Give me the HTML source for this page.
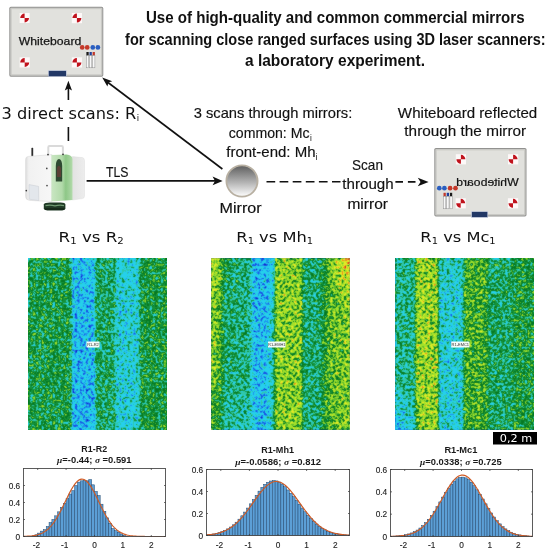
<!DOCTYPE html>
<html><head><meta charset="utf-8"><title>Mirrors laser scanning</title>
<style>html,body{margin:0;padding:0;background:#fff;width:550px;height:550px;overflow:hidden}svg{display:block}</style></head>
<body>
<svg width="550" height="550" viewBox="0 0 550 550">
<defs>
<filter id="mf1" x="0" y="0" width="100%" height="100%" color-interpolation-filters="sRGB">
<feTurbulence type="fractalNoise" baseFrequency="0.36" numOctaves="2" seed="3" result="nz"/>
<feColorMatrix in="nz" type="matrix" values="1 0 0 0 0 1 0 0 0 0 1 0 0 0 0 0 0 0 0 1" result="ng"/>
<feComposite in="SourceGraphic" in2="ng" operator="arithmetic" k1="0" k2="1" k3="0.58" k4="-0.290" result="fd"/>
<feComponentTransfer in="fd">
<feFuncR type="discrete" tableValues="0.059 0.059 0.059 0.059 0.059 0.059 0.059 0.059 0.059 0.059 0.059 0.059 0.059 0.059 0.059 0.059 0.098 0.098 0.098 0.098 0.098 0.098 0.098 0.098 0.118 0.118 0.118 0.118 0.118 0.118 0.149 0.149 0.149 0.149 0.149 0.149 0.149 0.149 0.149 0.149 0.149 0.149 0.149 0.188 0.188 0.188 0.188 0.188 0.188 0.086 0.086 0.086 0.086 0.086 0.086 0.020 0.020 0.020 0.020 0.020 0.020 0.020 0.373 0.373 0.373 0.373 0.373 0.647 0.647 0.647 0.647 0.647 0.647 0.647 0.647 0.902 0.902 0.902 0.902 0.902 0.902 0.902 0.902 0.933 0.933 0.933 0.933 0.933 0.933 0.933 0.933 0.843 0.843 0.843 0.843 0.843 0.843 0.843 0.843 0.843"/>
<feFuncG type="discrete" tableValues="0.118 0.118 0.118 0.118 0.118 0.118 0.118 0.118 0.118 0.118 0.118 0.118 0.118 0.118 0.118 0.118 0.314 0.314 0.314 0.314 0.314 0.314 0.314 0.314 0.569 0.569 0.569 0.569 0.569 0.569 0.816 0.816 0.816 0.816 0.816 0.816 0.816 0.816 0.816 0.816 0.816 0.816 0.816 0.784 0.784 0.784 0.784 0.784 0.784 0.580 0.580 0.580 0.580 0.580 0.580 0.478 0.478 0.478 0.478 0.478 0.478 0.478 0.737 0.737 0.737 0.737 0.737 0.886 0.886 0.886 0.886 0.886 0.886 0.886 0.886 0.918 0.918 0.918 0.918 0.918 0.918 0.918 0.918 0.549 0.549 0.549 0.549 0.549 0.549 0.549 0.549 0.137 0.137 0.137 0.137 0.137 0.137 0.137 0.137 0.137"/>
<feFuncB type="discrete" tableValues="0.765 0.765 0.765 0.765 0.765 0.765 0.765 0.765 0.765 0.765 0.765 0.765 0.765 0.765 0.765 0.765 0.894 0.894 0.894 0.894 0.894 0.894 0.894 0.894 0.933 0.933 0.933 0.933 0.933 0.933 0.922 0.922 0.922 0.922 0.922 0.922 0.922 0.922 0.922 0.922 0.922 0.922 0.922 0.667 0.667 0.667 0.667 0.667 0.667 0.235 0.235 0.235 0.235 0.235 0.235 0.141 0.141 0.141 0.141 0.141 0.141 0.141 0.180 0.180 0.180 0.180 0.180 0.165 0.165 0.165 0.165 0.165 0.165 0.165 0.165 0.149 0.149 0.149 0.149 0.149 0.149 0.149 0.149 0.118 0.118 0.118 0.118 0.118 0.118 0.118 0.118 0.118 0.118 0.118 0.118 0.118 0.118 0.118 0.118 0.118"/>
<feFuncA type="table" tableValues="1 1"/>
</feComponentTransfer>
<feConvolveMatrix order="3" kernelMatrix="1 2 1 2 14 2 1 2 1" preserveAlpha="true" edgeMode="duplicate"/>
</filter>
<filter id="mf2" x="0" y="0" width="100%" height="100%" color-interpolation-filters="sRGB">
<feTurbulence type="fractalNoise" baseFrequency="0.36" numOctaves="2" seed="7" result="nz"/>
<feColorMatrix in="nz" type="matrix" values="1 0 0 0 0 1 0 0 0 0 1 0 0 0 0 0 0 0 0 1" result="ng"/>
<feComposite in="SourceGraphic" in2="ng" operator="arithmetic" k1="0" k2="1" k3="0.58" k4="-0.290" result="fd"/>
<feComponentTransfer in="fd">
<feFuncR type="discrete" tableValues="0.059 0.059 0.059 0.059 0.059 0.059 0.059 0.059 0.059 0.059 0.059 0.059 0.059 0.059 0.059 0.059 0.098 0.098 0.098 0.098 0.098 0.098 0.098 0.098 0.118 0.118 0.118 0.118 0.118 0.118 0.149 0.149 0.149 0.149 0.149 0.149 0.149 0.149 0.149 0.149 0.149 0.149 0.149 0.188 0.188 0.188 0.188 0.188 0.188 0.086 0.086 0.086 0.086 0.086 0.086 0.020 0.020 0.020 0.020 0.020 0.020 0.020 0.373 0.373 0.373 0.373 0.373 0.647 0.647 0.647 0.647 0.647 0.647 0.647 0.647 0.902 0.902 0.902 0.902 0.902 0.902 0.902 0.902 0.933 0.933 0.933 0.933 0.933 0.933 0.933 0.933 0.843 0.843 0.843 0.843 0.843 0.843 0.843 0.843 0.843"/>
<feFuncG type="discrete" tableValues="0.118 0.118 0.118 0.118 0.118 0.118 0.118 0.118 0.118 0.118 0.118 0.118 0.118 0.118 0.118 0.118 0.314 0.314 0.314 0.314 0.314 0.314 0.314 0.314 0.569 0.569 0.569 0.569 0.569 0.569 0.816 0.816 0.816 0.816 0.816 0.816 0.816 0.816 0.816 0.816 0.816 0.816 0.816 0.784 0.784 0.784 0.784 0.784 0.784 0.580 0.580 0.580 0.580 0.580 0.580 0.478 0.478 0.478 0.478 0.478 0.478 0.478 0.737 0.737 0.737 0.737 0.737 0.886 0.886 0.886 0.886 0.886 0.886 0.886 0.886 0.918 0.918 0.918 0.918 0.918 0.918 0.918 0.918 0.549 0.549 0.549 0.549 0.549 0.549 0.549 0.549 0.137 0.137 0.137 0.137 0.137 0.137 0.137 0.137 0.137"/>
<feFuncB type="discrete" tableValues="0.765 0.765 0.765 0.765 0.765 0.765 0.765 0.765 0.765 0.765 0.765 0.765 0.765 0.765 0.765 0.765 0.894 0.894 0.894 0.894 0.894 0.894 0.894 0.894 0.933 0.933 0.933 0.933 0.933 0.933 0.922 0.922 0.922 0.922 0.922 0.922 0.922 0.922 0.922 0.922 0.922 0.922 0.922 0.667 0.667 0.667 0.667 0.667 0.667 0.235 0.235 0.235 0.235 0.235 0.235 0.141 0.141 0.141 0.141 0.141 0.141 0.141 0.180 0.180 0.180 0.180 0.180 0.165 0.165 0.165 0.165 0.165 0.165 0.165 0.165 0.149 0.149 0.149 0.149 0.149 0.149 0.149 0.149 0.118 0.118 0.118 0.118 0.118 0.118 0.118 0.118 0.118 0.118 0.118 0.118 0.118 0.118 0.118 0.118 0.118"/>
<feFuncA type="table" tableValues="1 1"/>
</feComponentTransfer>
<feConvolveMatrix order="3" kernelMatrix="1 2 1 2 14 2 1 2 1" preserveAlpha="true" edgeMode="duplicate"/>
</filter>
<filter id="mf3" x="0" y="0" width="100%" height="100%" color-interpolation-filters="sRGB">
<feTurbulence type="fractalNoise" baseFrequency="0.36" numOctaves="2" seed="11" result="nz"/>
<feColorMatrix in="nz" type="matrix" values="1 0 0 0 0 1 0 0 0 0 1 0 0 0 0 0 0 0 0 1" result="ng"/>
<feComposite in="SourceGraphic" in2="ng" operator="arithmetic" k1="0" k2="1" k3="0.58" k4="-0.290" result="fd"/>
<feComponentTransfer in="fd">
<feFuncR type="discrete" tableValues="0.059 0.059 0.059 0.059 0.059 0.059 0.059 0.059 0.059 0.059 0.059 0.059 0.059 0.059 0.059 0.059 0.098 0.098 0.098 0.098 0.098 0.098 0.098 0.098 0.118 0.118 0.118 0.118 0.118 0.118 0.149 0.149 0.149 0.149 0.149 0.149 0.149 0.149 0.149 0.149 0.149 0.149 0.149 0.188 0.188 0.188 0.188 0.188 0.188 0.086 0.086 0.086 0.086 0.086 0.086 0.020 0.020 0.020 0.020 0.020 0.020 0.020 0.373 0.373 0.373 0.373 0.373 0.647 0.647 0.647 0.647 0.647 0.647 0.647 0.647 0.902 0.902 0.902 0.902 0.902 0.902 0.902 0.902 0.933 0.933 0.933 0.933 0.933 0.933 0.933 0.933 0.843 0.843 0.843 0.843 0.843 0.843 0.843 0.843 0.843"/>
<feFuncG type="discrete" tableValues="0.118 0.118 0.118 0.118 0.118 0.118 0.118 0.118 0.118 0.118 0.118 0.118 0.118 0.118 0.118 0.118 0.314 0.314 0.314 0.314 0.314 0.314 0.314 0.314 0.569 0.569 0.569 0.569 0.569 0.569 0.816 0.816 0.816 0.816 0.816 0.816 0.816 0.816 0.816 0.816 0.816 0.816 0.816 0.784 0.784 0.784 0.784 0.784 0.784 0.580 0.580 0.580 0.580 0.580 0.580 0.478 0.478 0.478 0.478 0.478 0.478 0.478 0.737 0.737 0.737 0.737 0.737 0.886 0.886 0.886 0.886 0.886 0.886 0.886 0.886 0.918 0.918 0.918 0.918 0.918 0.918 0.918 0.918 0.549 0.549 0.549 0.549 0.549 0.549 0.549 0.549 0.137 0.137 0.137 0.137 0.137 0.137 0.137 0.137 0.137"/>
<feFuncB type="discrete" tableValues="0.765 0.765 0.765 0.765 0.765 0.765 0.765 0.765 0.765 0.765 0.765 0.765 0.765 0.765 0.765 0.765 0.894 0.894 0.894 0.894 0.894 0.894 0.894 0.894 0.933 0.933 0.933 0.933 0.933 0.933 0.922 0.922 0.922 0.922 0.922 0.922 0.922 0.922 0.922 0.922 0.922 0.922 0.922 0.667 0.667 0.667 0.667 0.667 0.667 0.235 0.235 0.235 0.235 0.235 0.235 0.141 0.141 0.141 0.141 0.141 0.141 0.141 0.180 0.180 0.180 0.180 0.180 0.165 0.165 0.165 0.165 0.165 0.165 0.165 0.165 0.149 0.149 0.149 0.149 0.149 0.149 0.149 0.149 0.118 0.118 0.118 0.118 0.118 0.118 0.118 0.118 0.118 0.118 0.118 0.118 0.118 0.118 0.118 0.118 0.118"/>
<feFuncA type="table" tableValues="1 1"/>
</feComponentTransfer>
<feConvolveMatrix order="3" kernelMatrix="1 2 1 2 14 2 1 2 1" preserveAlpha="true" edgeMode="duplicate"/>
</filter>
<linearGradient id="g1" x1="0" y1="0" x2="1" y2="0"><stop offset="0.000" stop-color="rgb(138,138,138)"/><stop offset="0.309" stop-color="rgb(138,138,138)"/><stop offset="0.324" stop-color="rgb(85,85,85)"/><stop offset="0.475" stop-color="rgb(85,85,85)"/><stop offset="0.489" stop-color="rgb(130,130,130)"/><stop offset="0.619" stop-color="rgb(130,130,130)"/><stop offset="0.640" stop-color="rgb(102,102,102)"/><stop offset="0.791" stop-color="rgb(102,102,102)"/><stop offset="0.813" stop-color="rgb(140,140,140)"/><stop offset="1.000" stop-color="rgb(140,140,140)"/></linearGradient>
<linearGradient id="g2" x1="0" y1="0" x2="1" y2="0"><stop offset="0.000" stop-color="rgb(175,175,175)"/><stop offset="0.058" stop-color="rgb(165,165,165)"/><stop offset="0.101" stop-color="rgb(128,128,128)"/><stop offset="0.273" stop-color="rgb(124,124,124)"/><stop offset="0.309" stop-color="rgb(84,84,84)"/><stop offset="0.403" stop-color="rgb(84,84,84)"/><stop offset="0.446" stop-color="rgb(114,114,114)"/><stop offset="0.468" stop-color="rgb(173,173,173)"/><stop offset="0.647" stop-color="rgb(173,173,173)"/><stop offset="0.669" stop-color="rgb(127,127,127)"/><stop offset="0.777" stop-color="rgb(127,127,127)"/><stop offset="0.849" stop-color="rgb(163,163,163)"/><stop offset="1.000" stop-color="rgb(173,173,173)"/></linearGradient>
<linearGradient id="g3" x1="0" y1="0" x2="1" y2="0"><stop offset="0.000" stop-color="rgb(122,122,122)"/><stop offset="0.137" stop-color="rgb(122,122,122)"/><stop offset="0.158" stop-color="rgb(177,177,177)"/><stop offset="0.302" stop-color="rgb(177,177,177)"/><stop offset="0.324" stop-color="rgb(102,102,102)"/><stop offset="0.482" stop-color="rgb(102,102,102)"/><stop offset="0.504" stop-color="rgb(158,158,158)"/><stop offset="0.655" stop-color="rgb(158,158,158)"/><stop offset="0.676" stop-color="rgb(130,130,130)"/><stop offset="0.842" stop-color="rgb(130,130,130)"/><stop offset="0.863" stop-color="rgb(142,142,142)"/><stop offset="1.000" stop-color="rgb(142,142,142)"/></linearGradient>
<radialGradient id="o2tr"><stop offset="0" stop-color="rgb(219,219,219)" stop-opacity="0.85"/><stop offset="1" stop-color="rgb(219,219,219)" stop-opacity="0"/></radialGradient>
<radialGradient id="o2tl"><stop offset="0" stop-color="rgb(189,189,189)" stop-opacity="0.6"/><stop offset="1" stop-color="rgb(189,189,189)" stop-opacity="0"/></radialGradient>
<linearGradient id="o2bl" x1="0" y1="0" x2="0" y2="1"><stop offset="0" stop-color="rgb(107,107,107)" stop-opacity="0"/><stop offset="1" stop-color="rgb(107,107,107)" stop-opacity="0.6"/></linearGradient>
<linearGradient id="o2bt" x1="0" y1="0" x2="0" y2="1"><stop offset="0" stop-color="rgb(76,76,76)" stop-opacity="0.5"/><stop offset="1" stop-color="rgb(76,76,76)" stop-opacity="0"/></linearGradient>
<radialGradient id="o3bl"><stop offset="0" stop-color="rgb(76,76,76)" stop-opacity="0.8"/><stop offset="1" stop-color="rgb(76,76,76)" stop-opacity="0"/></radialGradient>
<linearGradient id="o3ct" x1="0" y1="0" x2="0" y2="1"><stop offset="0" stop-color="rgb(120,120,120)" stop-opacity="0.5"/><stop offset="1" stop-color="rgb(120,120,120)" stop-opacity="0"/></linearGradient>
<linearGradient id="o1bt" x1="0" y1="0" x2="0" y2="1"><stop offset="0" stop-color="rgb(71,71,71)" stop-opacity="0.0"/><stop offset="1" stop-color="rgb(71,71,71)" stop-opacity="0.35"/></linearGradient>
</defs>
<rect width="550" height="550" fill="#fff"/>
<text x="145.93" y="23.2" font-family="Liberation Sans, sans-serif" font-weight="bold" font-size="16.2" textLength="378.61" lengthAdjust="spacingAndGlyphs" fill="#111">Use of high-quality and common commercial mirrors</text>
<text x="125.05" y="44.6" font-family="Liberation Sans, sans-serif" font-weight="bold" font-size="16.2" textLength="420.51" lengthAdjust="spacingAndGlyphs" fill="#111">for scanning close ranged surfaces using 3D laser scanners:</text>
<text x="245.01" y="66.0" font-family="Liberation Sans, sans-serif" font-weight="bold" font-size="16.2" textLength="180.02" lengthAdjust="spacingAndGlyphs" fill="#111">a laboratory experiment.</text>
<text x="1.53" y="118.5" font-family="DejaVu Sans, sans-serif" font-weight="normal" font-size="15.2" textLength="134.83" lengthAdjust="spacingAndGlyphs" fill="#111">3 direct scans: R</text>
<text x="136.7" y="121.1" font-family="DejaVu Sans, sans-serif" font-size="8.5" fill="#111">i</text>
<text x="193.67" y="117.5" font-family="Liberation Sans, sans-serif" font-weight="normal" font-size="14.4" textLength="158.6" lengthAdjust="spacingAndGlyphs" fill="#111" stroke="#111" stroke-width="0.15">3 scans through mirrors:</text>
<text x="228.75" y="137.6" font-family="Liberation Sans, sans-serif" font-weight="normal" font-size="14.4" textLength="80.76" lengthAdjust="spacingAndGlyphs" fill="#111" stroke="#111" stroke-width="0.15">common: Mc</text>
<text x="226.25" y="157.4" font-family="Liberation Sans, sans-serif" font-weight="normal" font-size="14.4" textLength="89.31" lengthAdjust="spacingAndGlyphs" fill="#111" stroke="#111" stroke-width="0.15">front-end: Mh</text>
<text x="309.9" y="141" font-family="Liberation Sans, sans-serif" font-size="8.2" fill="#111">i</text>
<text x="315.5" y="160.4" font-family="Liberation Sans, sans-serif" font-size="8.2" fill="#111">i</text>
<text x="106.02" y="176.7" font-family="Liberation Sans, sans-serif" font-weight="normal" font-size="14.4" textLength="22.41" lengthAdjust="spacingAndGlyphs" fill="#111" stroke="#111" stroke-width="0.15">TLS</text>
<text x="219.6" y="212.5" font-family="Liberation Sans, sans-serif" font-weight="normal" font-size="14.4" textLength="42.09" lengthAdjust="spacingAndGlyphs" fill="#111" stroke="#111" stroke-width="0.15">Mirror</text>
<text x="352.03" y="169.5" font-family="Liberation Sans, sans-serif" font-weight="normal" font-size="14.4" textLength="30.97" lengthAdjust="spacingAndGlyphs" fill="#111" stroke="#111" stroke-width="0.15">Scan</text>
<text x="342.38" y="188.8" font-family="Liberation Sans, sans-serif" font-weight="normal" font-size="14.4" textLength="51.27" lengthAdjust="spacingAndGlyphs" fill="#111" stroke="#111" stroke-width="0.15">through</text>
<text x="347.44" y="209.0" font-family="Liberation Sans, sans-serif" font-weight="normal" font-size="14.4" textLength="40.49" lengthAdjust="spacingAndGlyphs" fill="#111" stroke="#111" stroke-width="0.15">mirror</text>
<text x="397.88" y="118.0" font-family="Liberation Sans, sans-serif" font-weight="normal" font-size="14.4" textLength="139.34" lengthAdjust="spacingAndGlyphs" fill="#111" stroke="#111" stroke-width="0.15">Whiteboard reflected</text>
<text x="404.36" y="136.1" font-family="Liberation Sans, sans-serif" font-weight="normal" font-size="14.4" textLength="121.77" lengthAdjust="spacingAndGlyphs" fill="#111" stroke="#111" stroke-width="0.15">through the mirror</text>
<text x="58.59" y="241.5" font-family="DejaVu Sans, sans-serif" font-weight="normal" font-size="14.8" textLength="65.23" lengthAdjust="spacingAndGlyphs" fill="#111">R<tspan font-size="9" dy="2.8">1</tspan><tspan dy="-2.8"> vs R</tspan><tspan font-size="9" dy="2.8">2</tspan></text>
<text x="236.34" y="241.5" font-family="DejaVu Sans, sans-serif" font-weight="normal" font-size="14.8" textLength="76.71" lengthAdjust="spacingAndGlyphs" fill="#111">R<tspan font-size="9" dy="2.8">1</tspan><tspan dy="-2.8"> vs Mh</tspan><tspan font-size="9" dy="2.8">1</tspan></text>
<text x="420.37" y="241.5" font-family="DejaVu Sans, sans-serif" font-weight="normal" font-size="14.8" textLength="75.32" lengthAdjust="spacingAndGlyphs" fill="#111">R<tspan font-size="9" dy="2.8">1</tspan><tspan dy="-2.8"> vs Mc</tspan><tspan font-size="9" dy="2.8">1</tspan></text>
<rect x="493" y="432" width="44" height="12.5" fill="#000"/>
<text x="499.79" y="442.0" font-family="DejaVu Sans, sans-serif" font-weight="normal" font-size="10.5" textLength="32.45" lengthAdjust="spacingAndGlyphs" fill="#fff">0,2 m</text>
<rect x="9.3" y="6.8" width="94.0" height="69.9" rx="1.6" fill="#929290"/><rect x="10.200000000000001" y="7.7" width="92.2" height="68.10000000000001" rx="1" fill="#c9c9c5"/><rect x="11.700000000000001" y="9.2" width="89.2" height="65.10000000000001" fill="#e1e1dd"/>
<rect x="19.6" y="13" width="10" height="10" fill="#fdf8f8"/><path d="M24.6,18.0L20.200000000000003,18.0A4.4,4.4 0 0 1 24.6,13.6Z M24.6,18.0L29.0,18.0A4.4,4.4 0 0 1 24.6,22.4Z" fill="#c0121c"/>
<rect x="71.8" y="13" width="10.2" height="10.2" fill="#fdf8f8"/><path d="M76.89999999999999,18.1L72.41199999999999,18.1A4.4879999999999995,4.4879999999999995 0 0 1 76.89999999999999,13.612000000000002Z M76.89999999999999,18.1L81.38799999999999,18.1A4.4879999999999995,4.4879999999999995 0 0 1 76.89999999999999,22.588Z" fill="#c0121c"/>
<rect x="19.6" y="57.3" width="10.2" height="10.2" fill="#fdf8f8"/><path d="M24.700000000000003,62.4L20.212000000000003,62.4A4.4879999999999995,4.4879999999999995 0 0 1 24.700000000000003,57.912Z M24.700000000000003,62.4L29.188000000000002,62.4A4.4879999999999995,4.4879999999999995 0 0 1 24.700000000000003,66.888Z" fill="#c0121c"/>
<rect x="71.8" y="57.3" width="10.2" height="10.2" fill="#fdf8f8"/><path d="M76.89999999999999,62.4L72.41199999999999,62.4A4.4879999999999995,4.4879999999999995 0 0 1 76.89999999999999,57.912Z M76.89999999999999,62.4L81.38799999999999,62.4A4.4879999999999995,4.4879999999999995 0 0 1 76.89999999999999,66.888Z" fill="#c0121c"/>
<text x="18.8" y="45.0" font-family="Liberation Sans, sans-serif" font-weight="normal" font-size="11.2" textLength="62.46" lengthAdjust="spacingAndGlyphs" fill="#151515" stroke="#151515" stroke-width="0.25">Whiteboard</text>
<circle cx="82.2" cy="47.4" r="2.35" fill="#c4392a"/>
<circle cx="87.2" cy="47.4" r="2.35" fill="#c4392a"/>
<circle cx="92.8" cy="47.4" r="2.35" fill="#2a5ec0"/>
<circle cx="97.9" cy="47.4" r="2.35" fill="#2a5ec0"/>
<rect x="86.4" y="52" width="2.3" height="3.6" fill="#1a1a1a"/><rect x="86.4" y="55.6" width="2.3" height="12.2" fill="#f8f8f8" stroke="#8a8a8a" stroke-width="0.45"/>
<rect x="89.5" y="52" width="2.3" height="3.6" fill="#1f3f9a"/><rect x="89.5" y="55.6" width="2.3" height="12.2" fill="#f8f8f8" stroke="#8a8a8a" stroke-width="0.45"/>
<rect x="92.6" y="52" width="2.3" height="3.6" fill="#c0392b"/><rect x="92.6" y="55.6" width="2.3" height="12.2" fill="#f8f8f8" stroke="#8a8a8a" stroke-width="0.45"/>
<rect x="48.3" y="70.6" width="18" height="6" fill="#223866" stroke="#d0d6e6" stroke-width="0.6"/>
<rect x="434.3" y="148" width="92.19999999999999" height="68.4" rx="1.6" fill="#929290"/><rect x="435.2" y="148.9" width="90.39999999999999" height="66.60000000000001" rx="1" fill="#c9c9c5"/><rect x="436.7" y="150.4" width="87.39999999999999" height="63.60000000000001" fill="#e1e1dd"/>
<rect x="455.8" y="154.2" width="10.2" height="10.2" fill="#fdf8f8"/><path d="M460.90000000000003,159.29999999999998L460.90000000000003,154.81199999999998A4.4879999999999995,4.4879999999999995 0 0 1 465.38800000000003,159.29999999999998Z M460.90000000000003,159.29999999999998L460.90000000000003,163.78799999999998A4.4879999999999995,4.4879999999999995 0 0 1 456.41200000000003,159.29999999999998Z" fill="#c0121c"/>
<rect x="508" y="154.2" width="10.2" height="10.2" fill="#fdf8f8"/><path d="M513.1,159.29999999999998L513.1,154.81199999999998A4.4879999999999995,4.4879999999999995 0 0 1 517.588,159.29999999999998Z M513.1,159.29999999999998L513.1,163.78799999999998A4.4879999999999995,4.4879999999999995 0 0 1 508.612,159.29999999999998Z" fill="#c0121c"/>
<rect x="455.6" y="198.2" width="10.2" height="10.2" fill="#fdf8f8"/><path d="M460.70000000000005,203.29999999999998L460.70000000000005,198.81199999999998A4.4879999999999995,4.4879999999999995 0 0 1 465.18800000000005,203.29999999999998Z M460.70000000000005,203.29999999999998L460.70000000000005,207.78799999999998A4.4879999999999995,4.4879999999999995 0 0 1 456.21200000000005,203.29999999999998Z" fill="#c0121c"/>
<rect x="507.9" y="198.2" width="10.2" height="10.2" fill="#fdf8f8"/><path d="M513.0,203.29999999999998L513.0,198.81199999999998A4.4879999999999995,4.4879999999999995 0 0 1 517.488,203.29999999999998Z M513.0,203.29999999999998L513.0,207.78799999999998A4.4879999999999995,4.4879999999999995 0 0 1 508.512,203.29999999999998Z" fill="#c0121c"/>
<g transform="translate(975,0) scale(-1,1)"><text x="456.33" y="185.7" font-family="Liberation Sans, sans-serif" font-weight="normal" font-size="11.5" textLength="62.57" lengthAdjust="spacingAndGlyphs" fill="#111" stroke="#111" stroke-width="0.2">Whiteboard</text></g>
<circle cx="439.3" cy="188.2" r="2.35" fill="#2a5ec0"/>
<circle cx="444.4" cy="188.2" r="2.35" fill="#2a5ec0"/>
<circle cx="450.1" cy="188.2" r="2.35" fill="#c4392a"/>
<circle cx="455.5" cy="188.2" r="2.35" fill="#c4392a"/>
<rect x="443.5" y="192.8" width="2.3" height="3.6" fill="#c0392b"/><rect x="443.5" y="196.4" width="2.3" height="12.4" fill="#f8f8f8" stroke="#8a8a8a" stroke-width="0.45"/>
<rect x="446.7" y="192.8" width="2.3" height="3.6" fill="#1f3f9a"/><rect x="446.7" y="196.4" width="2.3" height="12.4" fill="#f8f8f8" stroke="#8a8a8a" stroke-width="0.45"/>
<rect x="449.9" y="192.8" width="2.3" height="3.6" fill="#1a1a1a"/><rect x="449.9" y="196.4" width="2.3" height="12.4" fill="#f8f8f8" stroke="#8a8a8a" stroke-width="0.45"/>
<rect x="471.6" y="211.6" width="16.2" height="5.8" fill="#223866" stroke="#d0d6e6" stroke-width="0.6"/>

<defs>
<linearGradient id="scL" x1="0" y1="0" x2="1" y2="0"><stop offset="0" stop-color="#dcdcdc"/><stop offset="0.12" stop-color="#f1f1f1"/><stop offset="1" stop-color="#f7f7f7"/></linearGradient>
<linearGradient id="scG" x1="0" y1="0" x2="1" y2="0"><stop offset="0" stop-color="#c9e6c2"/><stop offset="0.5" stop-color="#b2daaa"/><stop offset="0.68" stop-color="#8ec787"/><stop offset="0.85" stop-color="#9fd098"/><stop offset="1" stop-color="#b3dbac"/></linearGradient>
<linearGradient id="scR" x1="0" y1="0" x2="1" y2="0"><stop offset="0" stop-color="#e2e2e2"/><stop offset="1" stop-color="#ededed"/></linearGradient>
</defs>
<g>
<path d="M48.3,155.5 V147.3 Q48.3,146 49.6,146 H61.6 Q62.9,146 62.9,147.3 V155.5" fill="none" stroke="#dadada" stroke-width="2"/>
<rect x="31.4" y="147.8" width="1.8" height="8.8" rx="0.6" fill="#2e2e2e"/>
<path d="M25.6,159.5 Q25.6,156.6 28.5,156.4 L52,154.6 L52,201.6 L29.5,200.4 Q25.6,200 25.6,196.5 Z" fill="url(#scL)" stroke="#d4d4d4" stroke-width="0.5"/>
<path d="M72.3,156.6 L82.4,157.6 Q84.5,158 84.5,160.5 L84.5,196 Q84.5,198.3 82.4,198.6 L72.3,200 Z" fill="url(#scR)" stroke="#d8d8d8" stroke-width="0.4"/>
<path d="M51.4,155 L66.5,154.6 Q72.3,155.5 72.5,159 L72.5,200 L51.4,201.6 Z" fill="url(#scG)"/>
<path d="M55.8,166 Q56,159.3 59,159 Q62,159.3 62.2,166 L62.2,181.5 L55.8,181.5 Z" fill="#2f4a32"/>
<path d="M57,168 Q58.5,163.5 61,168 L61,177 L57,177 Z" fill="#5a3f35"/>
<path d="M29,184.6 L38.6,186.4 L38.8,200.6 L29.2,199.2 Z" fill="#e3e7ec" stroke="#c6cbd1" stroke-width="0.5"/>
<circle cx="46.8" cy="168.4" r="0.85" fill="#4a4a4a"/><circle cx="47" cy="185.6" r="0.85" fill="#4a4a4a"/>
<circle cx="48" cy="154.6" r="0.9" fill="#3a3a3a"/><circle cx="63" cy="154.3" r="0.9" fill="#3a3a3a"/>
<circle cx="26.3" cy="190.6" r="0.85" fill="#3a3a3a"/>
<path d="M43.8,204.4 Q44.5,202.6 50,202.6 L60.5,202.6 Q65.4,202.6 65.4,204.6 L65.4,208.6 Q65,210.6 60,210.6 L50,210.6 Q43.8,210.6 43.8,208.6 Z" fill="#203a26"/>
<path d="M45.5,205.6 Q50,204.6 55,205.8 Q60,204.6 64,205.6" stroke="#6f9a72" stroke-width="1.3" fill="none"/>
<path d="M45,209 H64.5" stroke="#101c12" stroke-width="1.1"/>
</g>

<g stroke="#111" stroke-width="1.6" fill="none">
<line x1="68.4" y1="141" x2="68.4" y2="127"/>
<line x1="68.4" y1="100" x2="68.4" y2="88"/>
<line x1="222.4" y1="169" x2="108" y2="82.5"/>
<line x1="86.6" y1="180.9" x2="216" y2="180.9"/>
<path d="M266.5,181.7 H340.5" stroke-dasharray="8.7 4.4"/>
<path d="M395.4,181.9 H419" stroke-dasharray="7.6 4.9"/>
</g>
<g fill="#111">
<path d="M68.4,80.8 L72,90.4 L68.4,88.6 L64.8,90.4 Z"/>
<path d="M102.2,77.4 L112.3,81.3 L108.4,82.6 L107.4,86.6 Z"/>
<path d="M222.6,180.9 L212.6,185.2 L215,180.9 L212.6,176.6 Z"/>
<path d="M428.6,182 L417.8,186.2 L420.5,182 L417.8,177.8 Z"/>
</g>
<defs><linearGradient id="mg" x1="0" y1="0" x2="0" y2="1"><stop offset="0" stop-color="#5e5e5e"/><stop offset="0.55" stop-color="#b4b4b4"/><stop offset="1" stop-color="#ffffff"/></linearGradient></defs>
<circle cx="242" cy="181" r="15.6" fill="url(#mg)" stroke="#b8b0a2" stroke-width="1.8"/>

<clipPath id="cmf1"><rect x="28" y="258" width="139" height="172"/></clipPath><g clip-path="url(#cmf1)"><g filter="url(#mf1)"><rect x="28" y="258" width="139" height="172" fill="url(#g1)"/><g clip-path="url(#cmf1)"><rect x="72" y="258" width="23" height="172" fill="url(#o1bt)"/></g></g></g>
<rect x="86.5" y="341.5" width="13" height="6" fill="#f4fbf8"/>
<text x="93.0" y="346.3" text-anchor="middle" font-family="Liberation Sans, sans-serif" font-size="4" fill="#333">R1-R2</text>
<clipPath id="cmf2"><rect x="211" y="258" width="139" height="172"/></clipPath><g clip-path="url(#cmf2)"><g filter="url(#mf2)"><rect x="211" y="258" width="139" height="172" fill="url(#g2)"/><g clip-path="url(#cmf2)"><ellipse cx="352" cy="256" rx="26" ry="48" fill="url(#o2tr)"/><ellipse cx="211" cy="262" rx="22" ry="45" fill="url(#o2tl)"/><rect x="211" y="370" width="44" height="60" fill="url(#o2bl)"/><ellipse cx="211" cy="432" rx="14" ry="40" fill="url(#o2tl)"/><rect x="254" y="258" width="21" height="80" fill="url(#o2bt)"/></g></g></g>
<rect x="268" y="341.5" width="17.5" height="6" fill="#f4fbf8"/>
<text x="276.8" y="346.3" text-anchor="middle" font-family="Liberation Sans, sans-serif" font-size="4" fill="#333">R1-EMH1</text>
<clipPath id="cmf3"><rect x="395" y="258" width="139" height="172"/></clipPath><g clip-path="url(#cmf3)"><g filter="url(#mf3)"><rect x="395" y="258" width="139" height="172" fill="url(#g3)"/><g clip-path="url(#cmf3)"><ellipse cx="398" cy="432" rx="26" ry="50" fill="url(#o3bl)"/><rect x="439" y="258" width="25" height="40" fill="url(#o3ct)"/></g></g></g>
<rect x="451.2" y="341.5" width="18.3" height="6" fill="#f4fbf8"/>
<text x="460.3" y="346.3" text-anchor="middle" font-family="Liberation Sans, sans-serif" font-size="4" fill="#333">R1-EMC1</text>
<g fill="#5c9fd6" stroke="#24496e" stroke-width="0.5">
<rect x="32.02" y="535.82" width="2.84" height="0.68"/>
<rect x="34.86" y="534.80" width="2.84" height="1.70"/>
<rect x="37.70" y="533.10" width="2.84" height="3.40"/>
<rect x="40.54" y="531.14" width="2.84" height="5.36"/>
<rect x="43.38" y="529.62" width="2.84" height="6.88"/>
<rect x="46.22" y="526.55" width="2.84" height="9.95"/>
<rect x="49.06" y="522.56" width="2.84" height="13.94"/>
<rect x="51.90" y="519.50" width="2.84" height="17.00"/>
<rect x="54.74" y="515.84" width="2.84" height="20.66"/>
<rect x="57.58" y="511.85" width="2.84" height="24.65"/>
<rect x="60.42" y="507.34" width="2.84" height="29.16"/>
<rect x="63.26" y="503.35" width="2.84" height="33.15"/>
<rect x="66.10" y="498.67" width="2.84" height="37.83"/>
<rect x="68.94" y="494.00" width="2.84" height="42.50"/>
<rect x="71.78" y="490.60" width="2.84" height="45.90"/>
<rect x="74.62" y="485.50" width="2.84" height="51.00"/>
<rect x="77.46" y="482.10" width="2.84" height="54.40"/>
<rect x="80.30" y="480.82" width="2.84" height="55.68"/>
<rect x="83.14" y="480.40" width="2.84" height="56.10"/>
<rect x="85.98" y="480.82" width="2.84" height="55.68"/>
<rect x="88.82" y="479.55" width="2.84" height="56.95"/>
<rect x="91.66" y="484.82" width="2.84" height="51.68"/>
<rect x="94.50" y="491.45" width="2.84" height="45.05"/>
<rect x="97.34" y="495.45" width="2.84" height="41.05"/>
<rect x="100.18" y="504.20" width="2.84" height="32.30"/>
<rect x="103.02" y="511.34" width="2.84" height="25.16"/>
<rect x="105.86" y="517.80" width="2.84" height="18.70"/>
<rect x="108.70" y="523.24" width="2.84" height="13.26"/>
<rect x="111.54" y="528.51" width="2.84" height="7.99"/>
<rect x="114.38" y="530.55" width="2.84" height="5.95"/>
<rect x="117.22" y="532.25" width="2.84" height="4.25"/>
<rect x="120.06" y="533.95" width="2.84" height="2.55"/>
<rect x="122.90" y="535.48" width="2.84" height="1.02"/>
<rect x="125.74" y="536.08" width="2.84" height="0.42"/>
</g>
<polyline points="23.50,536.37 24.92,536.32 26.34,536.27 27.76,536.19 29.18,536.09 30.60,535.97 32.02,535.82 33.44,535.63 34.86,535.39 36.28,535.10 37.70,534.74 39.12,534.31 40.54,533.79 41.96,533.17 43.38,532.44 44.80,531.58 46.22,530.59 47.64,529.44 49.06,528.14 50.48,526.67 51.90,525.01 53.32,523.18 54.74,521.16 56.16,518.96 57.58,516.60 59.00,514.07 60.42,511.40 61.84,508.62 63.26,505.74 64.68,502.82 66.10,499.88 67.52,496.96 68.94,494.12 70.36,491.39 71.78,488.84 73.20,486.50 74.62,484.41 76.04,482.63 77.46,481.19 78.88,480.11 80.30,479.42 81.72,479.13 83.14,479.25 84.56,479.78 85.98,480.71 87.40,482.01 88.82,483.66 90.24,485.63 91.66,487.87 93.08,490.35 94.50,493.01 95.92,495.81 97.34,498.70 98.76,501.64 100.18,504.58 101.60,507.48 103.02,510.30 104.44,513.02 105.86,515.60 107.28,518.04 108.70,520.30 110.12,522.39 111.54,524.30 112.96,526.03 114.38,527.57 115.80,528.94 117.22,530.15 118.64,531.20 120.06,532.11 121.48,532.89 122.90,533.55 124.32,534.11 125.74,534.58 127.16,534.96 128.58,535.28 130.00,535.54 131.42,535.75 132.84,535.92 134.26,536.05 135.68,536.15 137.10,536.24 138.52,536.30 139.94,536.35 141.36,536.39 142.78,536.42 144.20,536.44 145.62,536.46 147.04,536.47 148.46,536.48 149.88,536.48 151.30,536.49 152.72,536.49 154.14,536.49 155.56,536.50 156.98,536.50 158.40,536.50 159.82,536.50 161.24,536.50 162.66,536.50 164.08,536.50 165.50,536.50" fill="none" stroke="#cf5a24" stroke-width="1.15"/>
<rect x="23.5" y="468.5" width="142.0" height="68.0" fill="none" stroke="#4a4a4a" stroke-width="0.9"/>
<path d="M37.70,536.5v-1.5M37.70,468.5v1.5M66.10,536.5v-1.5M66.10,468.5v1.5M94.50,536.5v-1.5M94.50,468.5v1.5M122.90,536.5v-1.5M122.90,468.5v1.5M151.30,536.5v-1.5M151.30,468.5v1.5M23.5,536.50h1.5M165.5,536.50h-1.5M23.5,519.50h1.5M165.5,519.50h-1.5M23.5,502.50h1.5M165.5,502.50h-1.5M23.5,485.50h1.5M165.5,485.50h-1.5" stroke="#333" stroke-width="0.7" fill="none"/>
<g font-family="Liberation Sans, sans-serif" font-size="8.3" fill="#222" stroke="#222" stroke-width="0.12"><text x="36.40" y="548.3" text-anchor="middle">-2</text><text x="64.80" y="548.3" text-anchor="middle">-1</text><text x="94.50" y="548.3" text-anchor="middle">0</text><text x="122.90" y="548.3" text-anchor="middle">1</text><text x="151.30" y="548.3" text-anchor="middle">2</text><text x="20.20" y="539.70" text-anchor="end">0</text><text x="20.20" y="522.70" text-anchor="end">0.2</text><text x="20.20" y="505.70" text-anchor="end">0.4</text><text x="20.20" y="488.70" text-anchor="end">0.6</text></g>
<text x="81.35" y="452.4" font-family="Liberation Sans, sans-serif" font-weight="bold" font-size="8.6" textLength="25.75" lengthAdjust="spacingAndGlyphs" fill="#1a1a1a">R1-R2</text>
<text x="57.1" y="463.3" font-family="Liberation Sans, sans-serif" font-weight="bold" font-size="8.6" textLength="74.48" lengthAdjust="spacingAndGlyphs" fill="#1a1a1a"><tspan font-family="Liberation Serif, serif" font-style="italic">μ</tspan>=-0.44; <tspan font-family="Liberation Serif, serif" font-style="italic">σ</tspan> =0.591</text>
<g fill="#5c9fd6" stroke="#24496e" stroke-width="0.5">
<rect x="206.50" y="534.74" width="2.86" height="0.76"/>
<rect x="209.36" y="534.42" width="2.86" height="1.08"/>
<rect x="212.22" y="533.98" width="2.86" height="1.52"/>
<rect x="215.08" y="533.40" width="2.86" height="2.10"/>
<rect x="217.94" y="532.64" width="2.86" height="2.86"/>
<rect x="220.80" y="531.66" width="2.86" height="3.84"/>
<rect x="223.66" y="530.43" width="2.86" height="5.07"/>
<rect x="226.52" y="528.89" width="2.86" height="6.61"/>
<rect x="229.38" y="527.03" width="2.86" height="8.47"/>
<rect x="232.24" y="524.79" width="2.86" height="10.71"/>
<rect x="235.10" y="522.18" width="2.86" height="13.32"/>
<rect x="237.96" y="519.17" width="2.86" height="16.33"/>
<rect x="240.82" y="515.79" width="2.86" height="19.71"/>
<rect x="243.68" y="512.07" width="2.86" height="23.43"/>
<rect x="246.54" y="508.06" width="2.86" height="27.44"/>
<rect x="249.40" y="503.85" width="2.86" height="31.65"/>
<rect x="252.26" y="499.54" width="2.86" height="35.96"/>
<rect x="255.12" y="495.26" width="2.86" height="40.24"/>
<rect x="257.98" y="491.14" width="2.86" height="44.36"/>
<rect x="260.84" y="487.35" width="2.86" height="48.15"/>
<rect x="263.70" y="484.34" width="2.86" height="51.16"/>
<rect x="266.56" y="482.29" width="2.86" height="53.21"/>
<rect x="269.42" y="481.01" width="2.86" height="54.49"/>
<rect x="272.28" y="480.54" width="2.86" height="54.96"/>
<rect x="275.14" y="480.92" width="2.86" height="54.58"/>
<rect x="278.00" y="482.12" width="2.86" height="53.38"/>
<rect x="280.86" y="484.08" width="2.86" height="51.42"/>
<rect x="283.72" y="486.73" width="2.86" height="48.77"/>
<rect x="286.58" y="489.95" width="2.86" height="45.55"/>
<rect x="289.44" y="493.30" width="2.86" height="42.20"/>
<rect x="292.30" y="496.73" width="2.86" height="38.77"/>
<rect x="295.16" y="500.42" width="2.86" height="35.08"/>
<rect x="298.02" y="504.23" width="2.86" height="31.27"/>
<rect x="300.88" y="508.05" width="2.86" height="27.45"/>
<rect x="303.74" y="511.76" width="2.86" height="23.74"/>
<rect x="306.60" y="515.28" width="2.86" height="20.22"/>
<rect x="309.46" y="518.54" width="2.86" height="16.96"/>
<rect x="312.32" y="521.49" width="2.86" height="14.01"/>
<rect x="315.18" y="524.10" width="2.86" height="11.40"/>
<rect x="318.04" y="526.36" width="2.86" height="9.14"/>
<rect x="320.90" y="528.28" width="2.86" height="7.22"/>
<rect x="323.76" y="529.89" width="2.86" height="5.61"/>
<rect x="326.62" y="531.20" width="2.86" height="4.30"/>
<rect x="329.48" y="532.26" width="2.86" height="3.24"/>
<rect x="332.34" y="533.09" width="2.86" height="2.41"/>
<rect x="335.20" y="533.74" width="2.86" height="1.76"/>
<rect x="338.06" y="534.23" width="2.86" height="1.27"/>
<rect x="340.92" y="534.60" width="2.86" height="0.90"/>
<rect x="343.78" y="534.87" width="2.86" height="0.63"/>
<rect x="346.64" y="535.07" width="2.86" height="0.43"/>
</g>
<polyline points="206.50,534.91 207.93,534.79 209.36,534.65 210.79,534.49 212.22,534.30 213.65,534.08 215.08,533.83 216.51,533.54 217.94,533.21 219.37,532.83 220.80,532.40 222.23,531.91 223.66,531.37 225.09,530.76 226.52,530.08 227.95,529.33 229.38,528.49 230.81,527.58 232.24,526.58 233.67,525.50 235.10,524.32 236.53,523.05 237.96,521.69 239.39,520.24 240.82,518.70 242.25,517.08 243.68,515.38 245.11,513.60 246.54,511.75 247.97,509.85 249.40,507.90 250.83,505.92 252.26,503.91 253.69,501.89 255.12,499.88 256.55,497.89 257.98,495.94 259.41,494.05 260.84,492.23 262.27,490.50 263.70,488.88 265.13,487.38 266.56,486.03 267.99,484.83 269.42,483.79 270.85,482.94 272.28,482.27 273.71,481.80 275.14,481.53 276.57,481.46 278.00,481.60 279.43,481.94 280.86,482.48 282.29,483.21 283.72,484.13 285.15,485.22 286.58,486.48 288.01,487.88 289.44,489.42 290.87,491.08 292.30,492.84 293.73,494.69 295.16,496.60 296.59,498.57 298.02,500.57 299.45,502.58 300.88,504.60 302.31,506.60 303.74,508.58 305.17,510.51 306.60,512.40 308.03,514.22 309.46,515.97 310.89,517.65 312.32,519.24 313.75,520.75 315.18,522.17 316.61,523.50 318.04,524.73 319.47,525.88 320.90,526.94 322.33,527.90 323.76,528.79 325.19,529.59 326.62,530.32 328.05,530.98 329.48,531.56 330.91,532.09 332.34,532.55 333.77,532.96 335.20,533.33 336.63,533.64 338.06,533.92 339.49,534.16 340.92,534.37 342.35,534.55 343.78,534.70 345.21,534.84 346.64,534.95 348.07,535.04 349.50,535.12" fill="none" stroke="#cf5a24" stroke-width="1.15"/>
<rect x="206.5" y="469.5" width="143.0" height="66.0" fill="none" stroke="#4a4a4a" stroke-width="0.9"/>
<path d="M220.80,535.5v-1.5M220.80,469.5v1.5M249.40,535.5v-1.5M249.40,469.5v1.5M278.00,535.5v-1.5M278.00,469.5v1.5M306.60,535.5v-1.5M306.60,469.5v1.5M335.20,535.5v-1.5M335.20,469.5v1.5M206.5,535.50h1.5M349.5,535.50h-1.5M206.5,513.50h1.5M349.5,513.50h-1.5M206.5,491.50h1.5M349.5,491.50h-1.5M206.5,469.50h1.5M349.5,469.50h-1.5" stroke="#333" stroke-width="0.7" fill="none"/>
<g font-family="Liberation Sans, sans-serif" font-size="8.3" fill="#222" stroke="#222" stroke-width="0.12"><text x="219.50" y="548.3" text-anchor="middle">-2</text><text x="248.10" y="548.3" text-anchor="middle">-1</text><text x="278.00" y="548.3" text-anchor="middle">0</text><text x="306.60" y="548.3" text-anchor="middle">1</text><text x="335.20" y="548.3" text-anchor="middle">2</text><text x="203.20" y="538.70" text-anchor="end">0</text><text x="203.20" y="516.70" text-anchor="end">0.2</text><text x="203.20" y="494.70" text-anchor="end">0.4</text><text x="203.20" y="472.70" text-anchor="end">0.6</text></g>
<text x="261.25" y="452.7" font-family="Liberation Sans, sans-serif" font-weight="bold" font-size="8.6" textLength="32.74" lengthAdjust="spacingAndGlyphs" fill="#1a1a1a">R1-Mh1</text>
<text x="235.22" y="464.5" font-family="Liberation Sans, sans-serif" font-weight="bold" font-size="8.6" textLength="85.86" lengthAdjust="spacingAndGlyphs" fill="#1a1a1a"><tspan font-family="Liberation Serif, serif" font-style="italic">μ</tspan>=-0.0586; <tspan font-family="Liberation Serif, serif" font-style="italic">σ</tspan> =0.812</text>
<g fill="#5c9fd6" stroke="#24496e" stroke-width="0.5">
<rect x="393.34" y="536.11" width="2.84" height="0.39"/>
<rect x="396.18" y="535.92" width="2.84" height="0.58"/>
<rect x="399.02" y="535.63" width="2.84" height="0.87"/>
<rect x="401.86" y="535.23" width="2.84" height="1.27"/>
<rect x="404.70" y="534.68" width="2.84" height="1.82"/>
<rect x="407.54" y="533.93" width="2.84" height="2.57"/>
<rect x="410.38" y="532.95" width="2.84" height="3.55"/>
<rect x="413.22" y="531.67" width="2.84" height="4.83"/>
<rect x="416.06" y="530.04" width="2.84" height="6.46"/>
<rect x="418.90" y="528.02" width="2.84" height="8.48"/>
<rect x="421.74" y="525.57" width="2.84" height="10.93"/>
<rect x="424.58" y="522.66" width="2.84" height="13.84"/>
<rect x="427.42" y="519.27" width="2.84" height="17.23"/>
<rect x="430.26" y="515.44" width="2.84" height="21.06"/>
<rect x="433.10" y="511.21" width="2.84" height="25.29"/>
<rect x="435.94" y="506.66" width="2.84" height="29.84"/>
<rect x="438.78" y="501.91" width="2.84" height="34.59"/>
<rect x="441.62" y="497.12" width="2.84" height="39.38"/>
<rect x="444.46" y="492.45" width="2.84" height="44.05"/>
<rect x="447.30" y="488.10" width="2.84" height="48.40"/>
<rect x="450.14" y="484.26" width="2.84" height="52.24"/>
<rect x="452.98" y="481.10" width="2.84" height="55.40"/>
<rect x="455.82" y="478.79" width="2.84" height="57.71"/>
<rect x="458.66" y="477.44" width="2.84" height="59.06"/>
<rect x="461.50" y="477.12" width="2.84" height="59.38"/>
<rect x="464.34" y="477.86" width="2.84" height="58.64"/>
<rect x="467.18" y="479.60" width="2.84" height="56.90"/>
<rect x="470.02" y="482.27" width="2.84" height="54.23"/>
<rect x="472.86" y="485.72" width="2.84" height="50.78"/>
<rect x="475.70" y="489.79" width="2.84" height="46.71"/>
<rect x="478.54" y="494.29" width="2.84" height="42.21"/>
<rect x="481.38" y="499.03" width="2.84" height="37.47"/>
<rect x="484.22" y="503.83" width="2.84" height="32.67"/>
<rect x="487.06" y="508.51" width="2.84" height="27.99"/>
<rect x="489.90" y="512.94" width="2.84" height="23.56"/>
<rect x="492.74" y="517.02" width="2.84" height="19.48"/>
<rect x="495.58" y="520.68" width="2.84" height="15.82"/>
<rect x="498.42" y="523.88" width="2.84" height="12.62"/>
<rect x="501.26" y="526.61" width="2.84" height="9.89"/>
<rect x="504.10" y="528.88" width="2.84" height="7.62"/>
<rect x="506.94" y="530.74" width="2.84" height="5.76"/>
<rect x="509.78" y="532.22" width="2.84" height="4.28"/>
<rect x="512.62" y="533.37" width="2.84" height="3.13"/>
<rect x="515.46" y="534.26" width="2.84" height="2.24"/>
<rect x="518.30" y="534.92" width="2.84" height="1.58"/>
<rect x="521.14" y="535.41" width="2.84" height="1.09"/>
<rect x="523.98" y="535.76" width="2.84" height="0.74"/>
<rect x="526.82" y="536.00" width="2.84" height="0.50"/>
</g>
<polyline points="390.50,536.36 391.92,536.33 393.34,536.28 394.76,536.22 396.18,536.15 397.60,536.07 399.02,535.97 400.44,535.84 401.86,535.69 403.28,535.51 404.70,535.30 406.12,535.05 407.54,534.75 408.96,534.40 410.38,533.99 411.80,533.52 413.22,532.98 414.64,532.36 416.06,531.65 417.48,530.85 418.90,529.94 420.32,528.93 421.74,527.81 423.16,526.56 424.58,525.19 426.00,523.69 427.42,522.06 428.84,520.30 430.26,518.41 431.68,516.40 433.10,514.27 434.52,512.03 435.94,509.69 437.36,507.27 438.78,504.78 440.20,502.25 441.62,499.68 443.04,497.12 444.46,494.57 445.88,492.07 447.30,489.64 448.72,487.32 450.14,485.12 451.56,483.09 452.98,481.23 454.40,479.59 455.82,478.17 457.24,477.00 458.66,476.09 460.08,475.46 461.50,475.12 462.92,475.07 464.34,475.31 465.76,475.84 467.18,476.65 468.60,477.73 470.02,479.06 471.44,480.63 472.86,482.41 474.28,484.39 475.70,486.53 477.12,488.81 478.54,491.20 479.96,493.68 481.38,496.22 482.80,498.78 484.22,501.35 485.64,503.90 487.06,506.40 488.48,508.85 489.90,511.22 491.32,513.49 492.74,515.66 494.16,517.72 495.58,519.65 497.00,521.45 498.42,523.13 499.84,524.67 501.26,526.09 502.68,527.38 504.10,528.55 505.52,529.60 506.94,530.54 508.36,531.38 509.78,532.12 511.20,532.77 512.62,533.34 514.04,533.83 515.46,534.26 516.88,534.63 518.30,534.95 519.72,535.21 521.14,535.44 522.56,535.63 523.98,535.79 525.40,535.93 526.82,536.04 528.24,536.13 529.66,536.20 531.08,536.26 532.50,536.31" fill="none" stroke="#cf5a24" stroke-width="1.15"/>
<rect x="390.5" y="469.5" width="142.0" height="67.0" fill="none" stroke="#4a4a4a" stroke-width="0.9"/>
<path d="M404.70,536.5v-1.5M404.70,469.5v1.5M433.10,536.5v-1.5M433.10,469.5v1.5M461.50,536.5v-1.5M461.50,469.5v1.5M489.90,536.5v-1.5M489.90,469.5v1.5M518.30,536.5v-1.5M518.30,469.5v1.5M390.5,536.50h1.5M532.5,536.50h-1.5M390.5,514.17h1.5M532.5,514.17h-1.5M390.5,491.83h1.5M532.5,491.83h-1.5M390.5,469.50h1.5M532.5,469.50h-1.5" stroke="#333" stroke-width="0.7" fill="none"/>
<g font-family="Liberation Sans, sans-serif" font-size="8.3" fill="#222" stroke="#222" stroke-width="0.12"><text x="403.40" y="548.3" text-anchor="middle">-2</text><text x="431.80" y="548.3" text-anchor="middle">-1</text><text x="461.50" y="548.3" text-anchor="middle">0</text><text x="489.90" y="548.3" text-anchor="middle">1</text><text x="518.30" y="548.3" text-anchor="middle">2</text><text x="387.20" y="539.70" text-anchor="end">0</text><text x="387.20" y="517.37" text-anchor="end">0.2</text><text x="387.20" y="495.03" text-anchor="end">0.4</text><text x="387.20" y="472.70" text-anchor="end">0.6</text></g>
<text x="444.42" y="453.1" font-family="Liberation Sans, sans-serif" font-weight="bold" font-size="8.6" textLength="32.96" lengthAdjust="spacingAndGlyphs" fill="#1a1a1a">R1-Mc1</text>
<text x="420.13" y="464.5" font-family="Liberation Sans, sans-serif" font-weight="bold" font-size="8.6" textLength="81.62" lengthAdjust="spacingAndGlyphs" fill="#1a1a1a"><tspan font-family="Liberation Serif, serif" font-style="italic">μ</tspan>=0.0338; <tspan font-family="Liberation Serif, serif" font-style="italic">σ</tspan> =0.725</text>
</svg>
</body></html>
